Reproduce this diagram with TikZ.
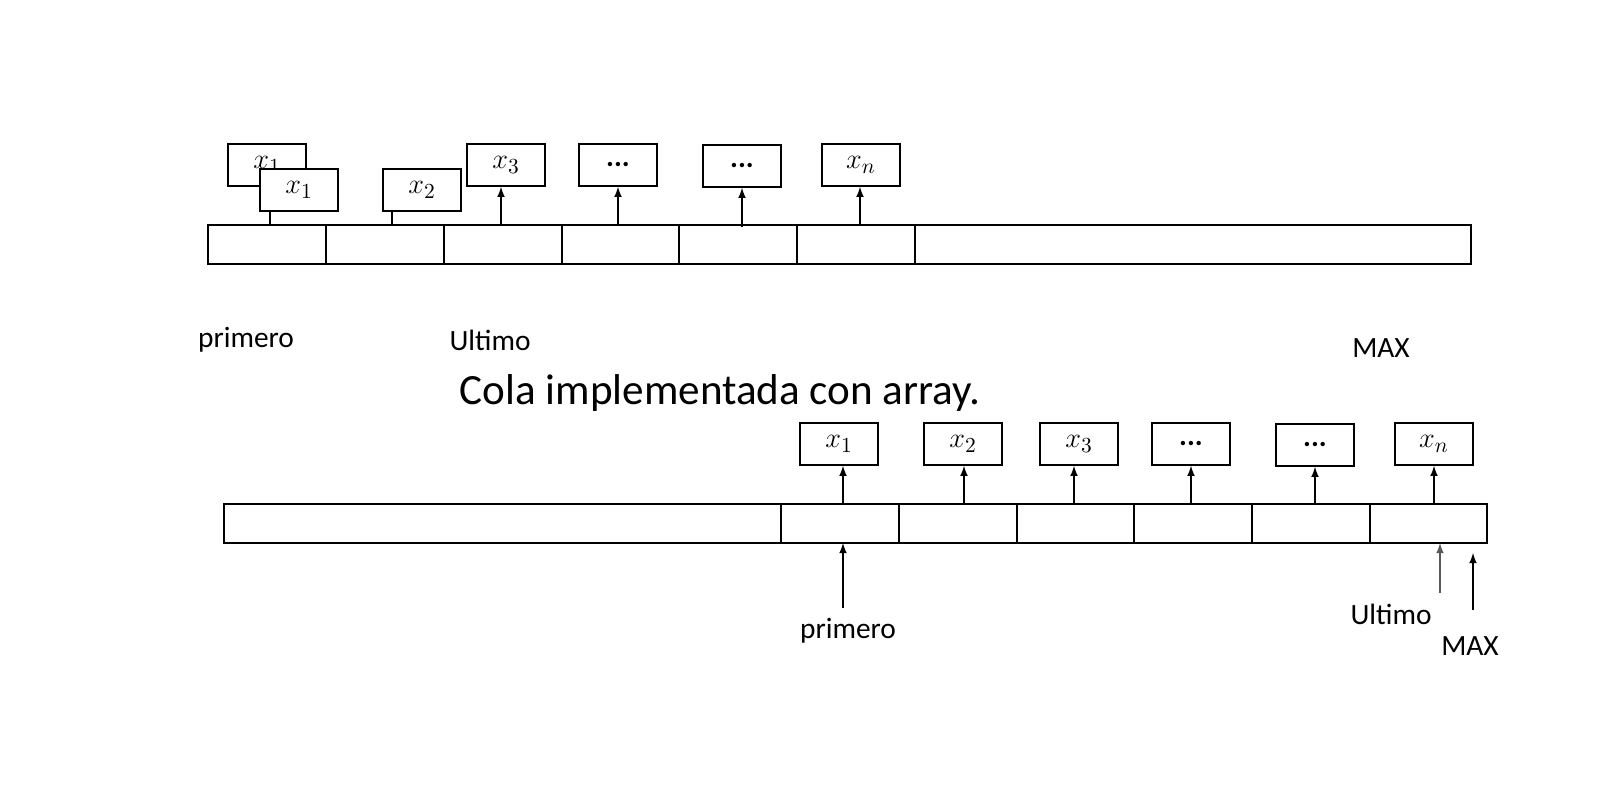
\documentclass[tikz,border=0pt]{standalone}
\usepackage{fontspec}
\setmainfont{Carlito}
\begin{document}
\begin{tikzpicture}[x=0.51pt,y=-0.51pt,
  cell/.style={draw,line width=0.8pt,inner sep=0pt},
  elem/.style={draw,fill=white,line width=0.8pt,minimum width=39.8pt,minimum height=21.4pt,inner sep=0pt,font=\fontsize{15}{16}\selectfont},
  arr/.style={-latex,line width=0.8pt},
  lnk/.style={line width=0.8pt},
  lbl/.style={font=\fontsize{15}{17}\selectfont}]
\useasboundingbox (0,0) rectangle (1600,800);
% top array
\foreach \a/\b in {208/326,326/444,444/562,562/679,679/797,797/915,915/1471}
  \draw[cell] (\a,225) rectangle (\b,264);
\node[elem] (tb) at (267,165) {$x_1$};
\node[elem] (t1) at (299,190) {$x_1$};
\node[elem] (t2) at (422,190) {$x_2$};
\node[elem] (t3) at (506,165) {$x_3$};
\node[elem] (t4) at (618,165) {\textbf{...}};
\node[elem] (t5) at (742,166) {\textbf{...}};
\node[elem] (t6) at (861,165) {$x_n$};
\coordinate (c1) at (270,225); \coordinate (c2) at (392,225);
\coordinate (c3) at (501,225); \coordinate (c4) at (618,225);
\coordinate (c5) at (742,227); \coordinate (c6) at (860,225);
\draw[lnk] (c1) -- (c1 |- t1.south);
\draw[lnk] (c2) -- (c2 |- t2.south);
\draw[arr] (c3) -- (c3 |- t3.south);
\draw[arr] (c4) -- (c4 |- t4.south);
\draw[arr] (c5) -- (c5 |- t5.south);
\draw[arr] (c6) -- (c6 |- t6.south);
\node[lbl] (p1) at (246,340) {primero};
\node[lbl] (u1) at (490,340) {Ultimo};
\node[lbl] (m1) at (1381,348) {MAX};
\node[font=\fontsize{22}{26}\selectfont] (title) at (720,393) {Cola implementada con array.};
% bottom array
\foreach \a/\b in {224/781,781/899,899/1017,1017/1134,1134/1252,1252/1370,1370/1487}
  \draw[cell] (\a,504) rectangle (\b,543);
\node[elem] (b1) at (839,444) {$x_1$};
\node[elem] (b2) at (963,444) {$x_2$};
\node[elem] (b3) at (1079,444) {$x_3$};
\node[elem] (b4) at (1191,444) {\textbf{...}};
\node[elem] (b5) at (1315,445) {\textbf{...}};
\node[elem] (b6) at (1434,444) {$x_n$};
\foreach \x/\n in {843/b1,964/b2,1074/b3,1191/b4,1315/b5,1434/b6}{
  \coordinate (s) at (\x,504);
  \draw[arr] (s) -- (s |- \n.south);
}
\coordinate (q1) at (843,608); \coordinate (q2) at (1440,593); \coordinate (q3) at (1473,610);
\draw[arr] (q1) -- (843,543);
\draw[arr,gray!70!black] (q2) -- (1440,543);
\draw[arr] (q3) -- (1473,553);
\node[lbl] (p2) at (848,631) {primero};
\node[lbl] (u2) at (1391,614) {Ultimo};
\node[lbl] (m2) at (1470,646) {MAX};
\end{tikzpicture}
\end{document}
